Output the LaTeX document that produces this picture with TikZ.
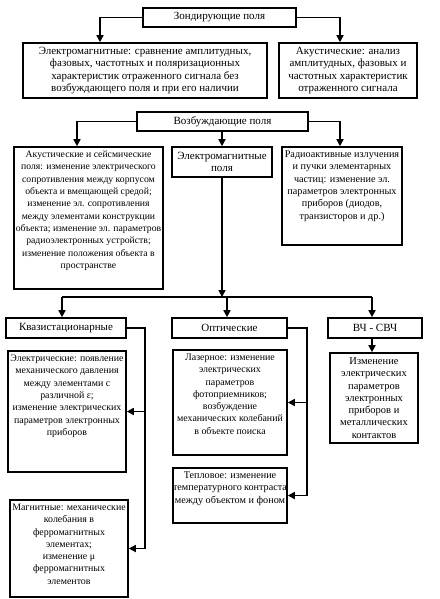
\documentclass[tikz,border=0pt]{standalone}
\usepackage{fontspec}
\setmainfont{Liberation Serif}
\usetikzlibrary{arrows.meta}
\newcommand{\bxt}[3]{\parbox[t][#2][t]{#1}{\centering #3}}
\begin{document}
\begin{tikzpicture}[x=1pt,y=-1pt,
  box/.style={draw,line width=1.6pt,inner sep=0pt,align=center,
    font=\fontsize{9.9}{12.3}\selectfont},
  big/.style={font=\fontsize{11}{12.3}\selectfont},
  arr/.style={line width=1.6pt,-{Triangle[width=7pt,length=7pt]}},
  ln/.style={line width=1.6pt}]
\useasboundingbox (0,0) rectangle (439,599);
\fill[white] (0,0) rectangle (439,599);
% top level
\node[box,big,minimum width=153pt,minimum height=19pt] (Z) at (219.5,17.5) {Зондирующие поля};
\node[box,big,minimum width=244pt,minimum height=55pt] (E1) at (145,70.5)
  {Электромагнитные: сравнение амплитудных,\\ фазовых, частотных и поляризационных\\ характеристик отраженного сигнала без\\ возбуждающего поля и при его наличии};
\node[box,big,minimum width=138pt,minimum height=55pt] (A1) at (348,70.5)
  {Акустические: анализ\\ амплитудных, фазовых и\\ частотных характеристик\\ отраженного сигнала};
\node[box,big,minimum width=171pt,minimum height=19pt] (V) at (222.5,121.5) {Возбуждающие поля};
\node[box,inner ysep=4pt,font=\fontsize{9.7}{12.3}\selectfont] (AS) at (88.5,218) {\bxt{149pt}{134pt}{Акустические и сейсмические\\ поля: изменение электрического\\ сопротивления между корпусом\\ объекта и вмещающей средой;\\ изменение эл. сопротивления\\ между элементами конструкции\\ объекта; изменение эл. параметров\\ радиоэлектронных устройств;\\ изменение положения объекта в\\ пространстве}};
\node[box,big,minimum width=100pt,minimum height=30pt] (EP) at (222,162) {Электромагнитные\\ поля};
\node[box,inner ysep=4pt,font=\fontsize{10.2}{12.3}\selectfont] (R) at (342,196) {\bxt{120pt}{90pt}{Радиоактивные излучения\\ и пучки элементарных\\ частиц: изменение эл.\\ параметров электронных\\ приборов (диодов,\\ транзисторов и др.)}};
% second level
\node[box,big,minimum width=120pt,minimum height=20pt] (Q) at (66,328) {Квазистационарные};
\node[box,big,minimum width=115pt,minimum height=20pt] (O) at (229.5,328) {Оптические};
\node[box,big,minimum width=94pt,minimum height=20pt] (H) at (375,328) {ВЧ - СВЧ};
\node[box,minimum width=88pt,minimum height=90pt,font=\fontsize{10.5}{12.3}\selectfont] (HI) at (374,398) {Изменение\\ электрических\\ параметров\\ электронных\\ приборов и\\ металлических\\ контактов};
\node[box,inner ysep=4pt] (EL) at (67,411.5) {\bxt{118pt}{113pt}{Электрические: появление\\ механического давления\\ между элементами с\\ различной ε;\\ изменение электрических\\ параметров электронных\\ приборов}};
\node[box,inner ysep=4pt] (MG) at (69,548.5) {\bxt{118pt}{89pt}{Магнитные: механические\\ колебания в\\ ферромагнитных\\ элементах;\\ изменение μ\\ ферромагнитных\\ элементов}};
\node[box,inner ysep=4pt] (LZ) at (230,402.5) {\bxt{114pt}{97pt}{Лазерное: изменение\\ электрических\\ параметров\\ фотоприемников;\\ возбуждение\\ механических колебаний\\ в объекте поиска}};
\node[box,inner ysep=4pt,font=\fontsize{10.2}{12.3}\selectfont] (TP) at (230,495.5) {\bxt{114pt}{47pt}{Тепловое: изменение\\ температурного контраста\\ между объектом и фоном}};
% helper coordinates
\coordinate (c1) at (100,0);
\coordinate (c2) at (340,0);
\coordinate (c3) at (77,0);
\coordinate (bq) at (62,297);
\coordinate (bo) at (227,297);
\coordinate (bh) at (372,297);
\coordinate (qv) at (145,0);
\coordinate (ov) at (307,0);
% connectors
\draw[arr] (Z.west) -| (c1 |- E1.north);
\draw[arr] (Z.east) -| (c2 |- A1.north);
\draw[arr] (V.west) -| (c3 |- AS.north);
\draw[arr] (V.east) -| (c2 |- R.north);
\draw[arr] (EP.north |- V.south) -- (EP.north);
\draw[arr] (EP.south) -- (EP.south |- bo);
\draw[ln] (bq) -- (bh);
\draw[arr] (bq) -- (bq |- Q.north);
\draw[arr] (bo) -- (bo |- O.north);
\draw[arr] (bh) -- (bh |- H.north);
\draw[arr] (bh |- H.south) -- (bh |- HI.north);
\draw[arr] (Q.east) -| (qv |- MG.east) -- (MG.east);
\draw[arr] (qv |- EL.east) -- (EL.east);
\draw[arr] (O.east) -| (ov |- TP.east) -- (TP.east);
\draw[arr] (ov |- LZ.east) -- (LZ.east);
\end{tikzpicture}
\end{document}
